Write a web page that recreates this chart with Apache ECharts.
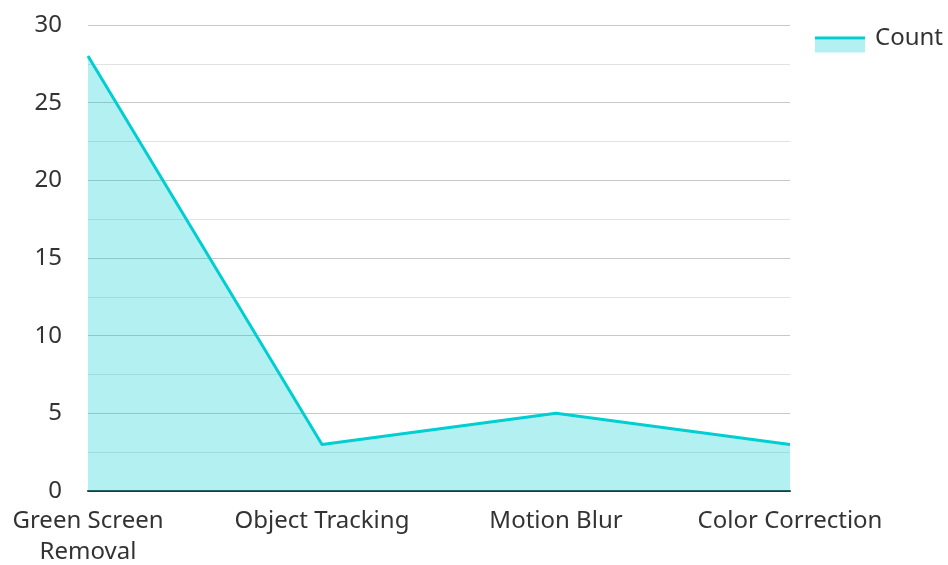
<!DOCTYPE html>
<html><head><meta charset="utf-8">
<script src="https://cdn.jsdelivr.net/npm/echarts@6/dist/echarts.min.js"></script>
<style>html,body{margin:0;padding:0;background:#fff}#c{width:948px;height:565px}</style>
</head><body><div id="c"></div>
<script>
const categories = ['Green Screen\nRemoval', 'Object Tracking', 'Motion Blur', 'Color Correction'];
const countValues = [28, 3, 5, 3];
const yTicks = [0, 5, 10, 15, 20, 25, 30];

const lineColor = '#00CED1';
const areaColor = 'rgba(0,206,209,0.3)';

const chart = echarts.init(document.getElementById('c'));
chart.setOption({
  animation: false,
  textStyle: { fontFamily: 'Noto Sans' },
  grid: { left: 88, right: 158, top: 25, bottom: 74, outerBoundsMode: 'none', containLabel: false },
  legend: [{
    right: 0, top: 21, icon: 'rect', itemWidth: 50, itemHeight: 3, itemGap: 10,
    itemStyle: { color: lineColor },
    textStyle: { fontSize: 24, color: '#333', fontFamily: 'Noto Sans', padding: [8, 0, 0, 5] },
    data: ['Count']
  }, {
    right: 0, top: 29, icon: 'rect', itemWidth: 50, itemHeight: 13, itemGap: 10,
    itemStyle: { color: areaColor },
    textStyle: { fontSize: 24, color: 'rgba(0,0,0,0)', fontFamily: 'Noto Sans', padding: [8, 0, 0, 5] },
    data: ['Count']
  }],
  xAxis: {
    type: 'category', data: categories, boundaryGap: false,
    axisLine: { lineStyle: { color: '#333', width: 2 } },
    axisTick: { show: false },
    axisLabel: { fontSize: 24, color: '#333', margin: 15, lineHeight: 31, interval: 0 }
  },
  yAxis: {
    type: 'value', min: yTicks[0], max: yTicks[yTicks.length - 1], interval: 5,
    axisLine: { show: false }, axisTick: { show: false },
    axisLabel: { fontSize: 24, color: '#333', margin: 26 },
    splitLine: { lineStyle: { color: '#c8c8c8', width: 1 } },
    minorTick: { show: false, splitNumber: 2 },
    minorSplitLine: { show: true, lineStyle: { color: '#e2e2e2', width: 1 } }
  },
  series: [{
    name: 'Count', type: 'line', data: countValues, symbol: 'none',
    lineStyle: { color: lineColor, width: 3 },
    itemStyle: { color: lineColor },
    areaStyle: { color: areaColor, opacity: 1 }
  }]
});
</script></body></html>
